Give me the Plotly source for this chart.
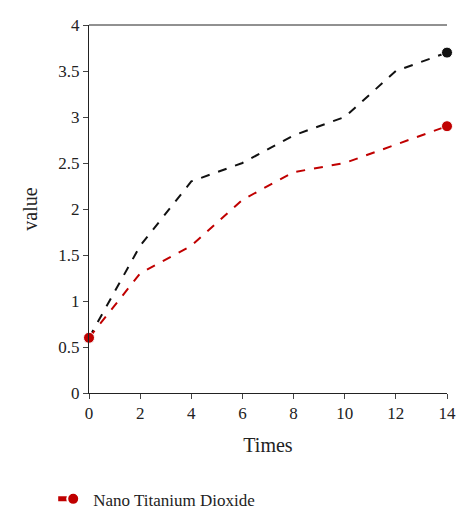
import plotly.graph_objects as go

times = [0, 2, 4, 6, 8, 10, 12, 14]
black_vals = [0.6, 1.6, 2.3, 2.5, 2.8, 3.0, 3.5, 3.7]
red_vals = [0.6, 1.3, 1.6, 2.1, 2.4, 2.5, 2.7, 2.9]

def sizes(n):
    return [11 if i in (0, n - 1) else 0 for i in range(n)]

fig = go.Figure()
fig.add_trace(go.Scatter(x=times, y=black_vals, mode="lines+markers", showlegend=False,
                         line=dict(color="#111111", dash="dash", width=2),
                         marker=dict(size=sizes(len(times)), color="#111111", opacity=1),
                         cliponaxis=False))
fig.add_trace(go.Scatter(x=times, y=red_vals, mode="lines+markers", name="Nano Titanium Dioxide",
                         line=dict(color="#c00000", dash="dash", width=2),
                         marker=dict(size=sizes(len(times)), color="#c00000", opacity=1),
                         cliponaxis=False))
fig.update_layout(
    width=474, height=510, plot_bgcolor="white", paper_bgcolor="white",
    font=dict(family="Liberation Serif", size=17, color="#222"),
    margin=dict(l=81, r=35, t=17, b=125, autoexpand=False),
    legend=dict(orientation="h", x=-0.1, y=-0.24, xanchor="left", yanchor="top",
                itemsizing="constant"),
)
fig.update_xaxes(range=[0, 14], dtick=2, title_text="Times", showline=True,
                 linecolor="#222", ticks="outside", showgrid=False, zeroline=False,
                 automargin=False)
fig.update_yaxes(range=[0, 4], dtick=0.5, title_text="value", showline=True,
                 linecolor="#222", ticks="outside", showgrid=False, zeroline=False,
                 automargin=False)
fig.add_shape(type="line", xref="paper", yref="paper", x0=0, x1=1, y0=1, y1=1,
              line=dict(color="#222", width=1))
fig.write_html("out.html")
